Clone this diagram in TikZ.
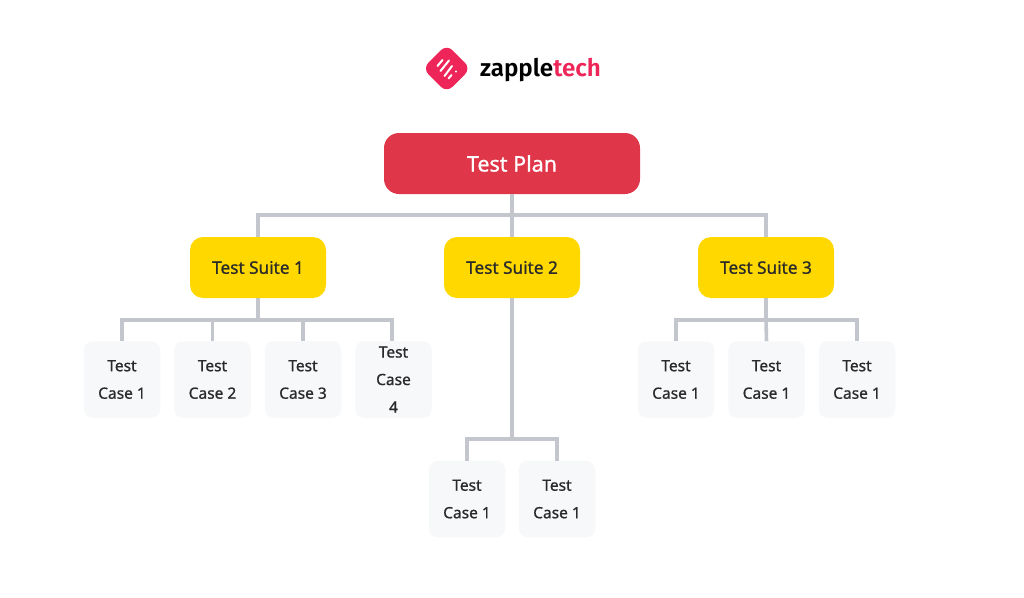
\documentclass[tikz,border=0pt]{standalone}
\usepackage{fontspec}
\setmainfont{Noto Sans}[FakeBold=0.9]
\newfontfamily\logofont{Fira Sans}[BoldFont={Fira Sans SemiBold}]
\definecolor{planred}{HTML}{E03649}
\definecolor{suiteyellow}{HTML}{FFD800}
\definecolor{casebg}{HTML}{F7F8FA}
\definecolor{linegray}{HTML}{C3C7CD}
\definecolor{logopink}{HTML}{EE2558}
\definecolor{inkdark}{HTML}{2A2A2A}
\newcommand{\lowered}[1]{\raisebox{-0.5pt}{#1}}
\tikzset{
  x=1pt,y=-1pt,
  planbox/.style={draw=none,fill=planred,rounded corners=15pt,minimum width=256pt,minimum height=61pt,inner sep=0pt,text=white,font=\fontsize{21.5}{26}\selectfont},
  suitebox/.style={draw=none,fill=suiteyellow,rounded corners=13pt,minimum width=136pt,minimum height=61pt,inner sep=0pt,text=inkdark,font=\fontsize{17.2}{20}\selectfont},
  casebox/.style={draw=none,fill=casebg,rounded corners=9pt,minimum width=76.5pt,minimum height=76.5pt,inner sep=0pt,text=inkdark,align=center,font=\fontsize{15.5}{27.5}\selectfont},
  conn/.style={draw=linegray,line width=3.6pt,line cap=butt,line join=miter},
  logostroke/.style={draw=white,line width=2pt,line cap=round},
}
\begin{document}
\begin{tikzpicture}
\useasboundingbox (0,0) rectangle (1024,597);
\fill[white] (0,0) rectangle (1024,597);
% logo
\node[fill=logopink,draw=none,rounded corners=8pt,minimum size=34pt,inner sep=0pt,rotate=45] (logomark) at (446.7,68.5) {};
\draw[logostroke] (437.5,66) -- (442.5,60);
\draw[logostroke] (440.5,71) -- (449,60.5);
\draw[logostroke] (444.5,76) -- (452,66);
\draw[logostroke] (448.5,78.5) -- (451.5,75);
\fill[white] (456,71.5) circle (1.2pt);
\node[anchor=base west,inner sep=0pt,font=\logofont\bfseries\fontsize{24.2}{30}\selectfont] (logotext) at (480,76.5) {zapple\textcolor{logopink}{tech}};
% nodes
\node[planbox] (plan) at (512,163.5) {\lowered{Test Plan}};
\node[suitebox] (s1) at (258,267.5) {\lowered{Test Suite 1}};
\node[suitebox] (s2) at (512,267.5) {\lowered{Test Suite 2}};
\node[suitebox] (s3) at (766,267.5) {\lowered{Test Suite 3}};
\node[casebox] (c1) at (122,379.5) {Test\\Case 1};
\node[casebox] (c2) at (212.5,379.5) {Test\\Case 2};
\node[casebox] (c3) at (303,379.5) {Test\\Case 3};
\node[casebox] (c4) at (393.5,379.5) {Test\\Case\\4};
\node[casebox] (c5) at (467,499) {Test\\Case 1};
\node[casebox] (c6) at (557,499) {Test\\Case 1};
\node[casebox] (c7) at (676,379.5) {Test\\Case 1};
\node[casebox] (c8) at (766.5,379.5) {Test\\Case 1};
\node[casebox] (c9) at (857,379.5) {Test\\Case 1};
% connector junctions
\coordinate (busplan) at (512,215);
\coordinate (busa) at (258,320);
\coordinate (busb) at (512,439);
\coordinate (busc) at (766,320);
% connectors
\draw[conn] (s1.north) |- (busplan) -| (s3.north);
\draw[conn] (plan.south) -- (s2.north);
\draw[conn] (c1.north) |- (busa) -| ([xshift=-1.5pt]c4.north);
\draw[conn] (c2.north) -- (c2.north |- busa);
\draw[conn] (c3.north) -- (c3.north |- busa);
\draw[conn] (s1.south) -- (busa);
\draw[conn] (s2.south) -- (busb);
\draw[conn] (c5.north) |- (busb) -| (c6.north);
\draw[conn] (s3.south) -- (busc);
\draw[conn] (c7.north) |- (busc) -| (c9.north);
\draw[conn] (busc) -- (c8.north);
\end{tikzpicture}
\end{document}
